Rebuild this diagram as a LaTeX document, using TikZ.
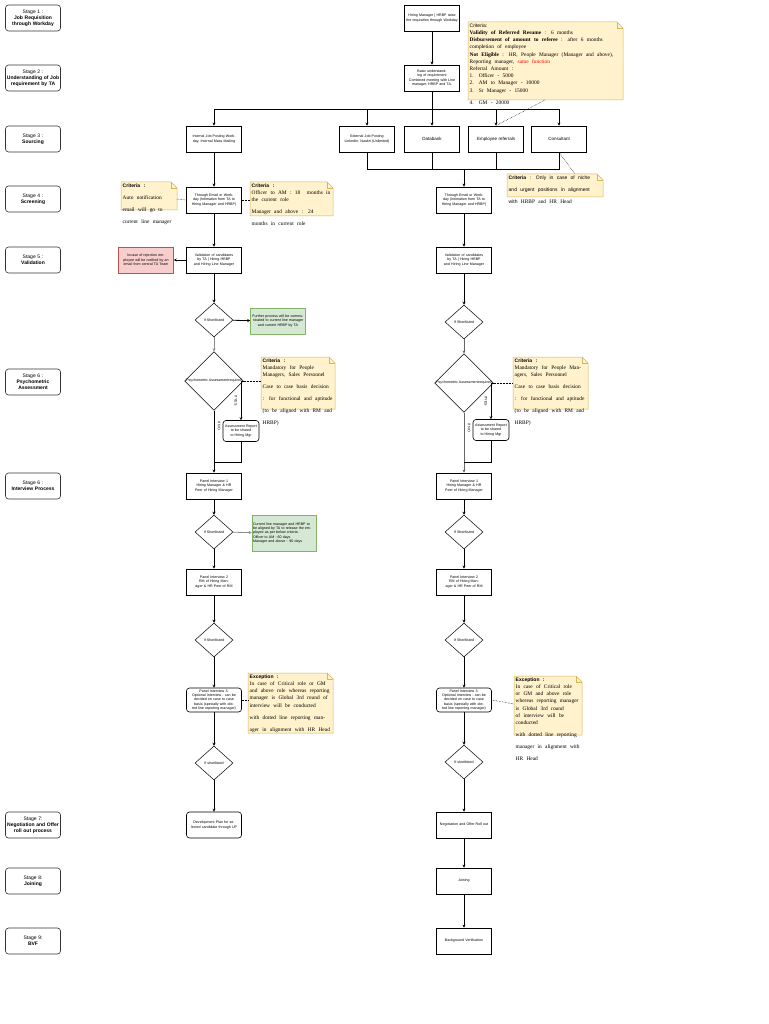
\documentclass[tikz,border=0pt]{standalone}
\usepackage{fontspec}
\setmainfont{Liberation Serif}
\setsansfont{Liberation Sans}
\usetikzlibrary{shapes.geometric,arrows.meta}
\definecolor{ny}{HTML}{FFF2CC}\definecolor{nyb}{HTML}{D6B656}
\definecolor{gf}{HTML}{D5E8D4}\definecolor{gb}{HTML}{82B366}
\definecolor{rf}{HTML}{F8CECC}\definecolor{rb}{HTML}{B85450}
\newcommand{\tinyf}{\sffamily\fontsize{3.6}{4.3}\selectfont}
\newcommand{\stf}{\sffamily\fontsize{5}{6}\selectfont}
\newcommand{\ntf}{\rmfamily\fontsize{5.4}{7.2}\selectfont}
\newcommand{\ntsf}{\sffamily\fontsize{5}{7.2}\selectfont}
\newcommand{\notebox}[6]{%
 \fill[ny] (#1,#2) -- ({#3-6},#2) -- (#3,{#2+6}) -- (#3,#4) -- (#1,#4) -- cycle;
 \draw[nyb,line width=0.5pt] (#1,#2) -- ({#3-6},#2) -- (#3,{#2+6}) -- (#3,#4) -- (#1,#4) -- cycle;
 \draw[nyb,line width=0.5pt] ({#3-6},#2) -- ({#3-6},{#2+6}) -- (#3,{#2+6});
 \node[anchor=north west,inner sep=1pt,text width={#3-#1-3},align=left] (#5) at ({#1+0.5},{#2+0.5}) {#6};
 \path (#1,#2) coordinate (#5-nw) (#3,#4) coordinate (#5-se);}
\begin{document}
\begin{tikzpicture}[x=1pt,y=-1pt,
 stage/.style={draw=black!80,rounded corners=3pt,line width=0.6pt,minimum width=55,minimum height=26,text width=53,align=center,inner sep=0pt,font=\stf},
 box/.style={draw,line width=0.8pt,minimum width=55,minimum height=26,text width=53,align=center,inner sep=0pt,font=\tinyf},
 rbox/.style={box,rounded corners=3pt,line width=0.6pt},
 dia/.style={draw,diamond,line width=0.5pt,minimum width=38,minimum height=34,inner sep=0pt,font=\tinyf},
 pdia/.style={dia,minimum width=58,minimum height=30},
 arr/.style={-{Stealth[length=3pt,width=3pt]},line width=0.8pt},
 garr/.style={arr,draw=black!45},
 dot/.style={densely dotted,line width=0.5pt},
 cbox/.style={draw,line width=0.6pt,minimum width=55,minimum height=26,text width=53,align=center,inner sep=0pt,font=\tinyf}]
\useasboundingbox (0,0) rectangle (768,1024);
\fill[white] (0,0) rectangle (768,1024);
% stages
\node[stage] (s1) at (33,18) {Stage 1 :\\\textbf{Job Requisition through Workday}};
\node[stage] (s2) at (33,78) {Stage 2 :\\\textbf{Understanding of Job requirement by TA}};
\node[stage] (s3) at (33,139) {Stage 3 :\\\textbf{Sourcing}};
\node[stage] (s4) at (33,199) {Stage 4 :\\\textbf{Screening}};
\node[stage] (s5) at (33,260) {Stage 5 :\\\textbf{Validation}};
\node[stage] (s6) at (33,382) {Stage 6 :\\\textbf{Psychometric Assessment}};
\node[stage] (s6b) at (33,486) {Stage 6 :\\\textbf{Interview Process}};
\node[stage] (s7) at (33,825) {Stage 7:\\\textbf{Negotiation and Offer roll out process}};
\node[stage] (s8) at (33,881) {Stage 8:\\\textbf{Joining}};
\node[stage] (s9) at (33,941) {Stage 9:\\\textbf{BVF}};
% top
\node[box] (hm) at (432,18) {Hiring Manager | HRBP raise the requisition through Workday};
\node[box] (bu) at (432,78) {Basic understanding of requirement\\Combined meeting with Line manager, HRBP and TA.};
\node[box] (ijp) at (214,139) {Internal Job Posting Workday, Internal Mass Mailing};
\node[box] (ejp) at (367,139) {External Job Posting LinkedIn, Naukri (Unlimited)};
\node[box,font=\sffamily\fontsize{4.5}{5}\selectfont] (db) at (432,139) {Databank};
\node[box,font=\sffamily\fontsize{4.5}{5}\selectfont] (er) at (496,139) {Employee referrals};
\node[box,font=\sffamily\fontsize{4.5}{5}\selectfont] (co) at (559,139) {Consultant};
\draw[arr] (hm) -- (bu);
\coordinate (bus) at (432,109);
\draw[arr] (bu) -- (db);
\draw[arr] (bus) -| (ijp.north);
\draw[arr] (bus) -| (ejp.north);
\draw[arr] (bus) -| (er.north);
\draw[arr] (bus) -| (co.north);
% left column
\node[box] (scl) at (214,200) {Through Email or Workday (Intimation from TA to Hiring Manager and HRBP)};
\node[box] (vl) at (214,260) {Validation of candidates by TA | Hiring HRBP and Hiring Line Manager};
\node[draw=rb,fill=rf,line width=0.6pt,minimum width=55,minimum height=26,text width=53,align=center,inner sep=0pt,font=\tinyf] (rej) at (146,260) {Incase of rejection employee will be notified by an email from central TA Team};
\node[dia] (d1l) at (214,320) {If Shortlisted};
\node[draw=gb,fill=gf,line width=0.6pt,minimum width=55,minimum height=26,text width=53,align=center,inner sep=0pt,font=\tinyf] (g1) at (278,321) {Further process will be communicated to current line manager and current HRBP by TA};
\node[pdia] (pl) at (214,381) {Psychometric Assessment\\required};
\node[rbox,minimum width=36,text width=33,minimum height=21] (al) at (241,431) {Assessment Report to be shared to Hiring Mgr};
\node[box] (p1l) at (214,486) {Panel Interview 1\\Hiring Manager \& HR Peer of Hiring Manager};
\node[dia] (d2l) at (214,532) {If Shortlisted};
\node[draw=gb,fill=gf,line width=0.6pt,minimum width=64,minimum height=36,text width=62,align=left,inner sep=1pt,font=\tinyf] (g2) at (284,533) {Current line manager and HRBP to be aligned by TA to release the employee as per below criteria:\\Officer to AM : 60 days\\Manager and above : 90 days};
\node[box] (p2l) at (214,582) {Panel Interview 2\\RM of Hiring Manager \& HR Peer of RM};
\node[dia] (d3l) at (214,640) {If Shortlisted};
\node[rbox,minimum height=24] (p3l) at (214,700) {Panel Interview 3:\\Optional Interview - can be decided on case to case basis (specially with dotted line reporting manager)};
\node[dia] (d4l) at (214,763) {If shortlisted};
\node[rbox] (dp) at (214,825) {Development Plan for selected candidate through UP};
\draw[arr] (ijp) -- (scl);
\draw[arr] (scl) -- (vl);
\draw[arr] (vl) -- (rej);
\draw[arr] (vl) -- (d1l);
\draw[arr] (d1l) -- (g1);
\draw[garr] (d1l) -- (pl);
\draw[arr] (pl.south) -- node[pos=0.25,left=0pt,font=\tinyf,rotate=-90,anchor=south]{If NO} (p1l.north);
\draw[arr] (pl.east) -| node[pos=0.75,right=0pt,font=\tinyf,rotate=-90,anchor=north]{If YES} (al.north);
\coordinate (jl) at (214,462);
\draw[line width=0.8pt] (al.south) |- (jl);
\draw[arr] (p1l) -- (d2l);
\draw[garr] (d2l) -- (g2);
\draw[arr] (d2l) -- (p2l);
\draw[arr] (p2l) -- (d3l);
\draw[arr] (d3l) -- (p3l);
\draw[arr] (p3l) -- (d4l);
\draw[arr] (d4l) -- (dp);
% right column
\node[box] (scr) at (464,200) {Through Email or Workday (Intimation from TA to Hiring Manager and HRBP)};
\node[box] (vr) at (464,260) {Validation of candidates by TA | Hiring HRBP and Hiring Line Manager};
\node[dia] (d1r) at (464,322) {If Shortlisted};
\node[pdia] (pr) at (464,383) {Psychometric Assessment\\required};
\node[rbox,minimum width=36,text width=33,minimum height=21] (ar) at (491,430) {Assessment Report to be shared to Hiring Mgr};
\node[box] (p1r) at (464,486) {Panel Interview 1\\Hiring Manager \& HR Peer of Hiring Manager};
\node[dia] (d2r) at (464,532) {If Shortlisted};
\node[box] (p2r) at (464,582) {Panel Interview 2\\RM of Hiring Manager \& HR Peer of RM};
\node[dia] (d3r) at (464,640) {If Shortlisted};
\node[rbox,minimum height=24] (p3r) at (464,700) {Panel Interview 3:\\Optional Interview - can be decided on case to case basis (specially with dotted line reporting manager)};
\node[dia] (d4r) at (464,762) {If shortlisted};
\node[box] (neg) at (464,825) {Negotiation and Offer Roll out};
\node[box] (jo) at (464,881) {Joining};
\node[box] (bv) at (464,941) {Background Verification};
\coordinate (bus2) at (464,169);
\draw[line width=0.8pt] (ejp.south) |- (bus2);
\draw[line width=0.8pt] (co.south) |- (bus2);
\draw[line width=0.8pt] (db.south) -- (db.south |- bus2);
\draw[line width=0.8pt] (er.south) -- (er.south |- bus2);
\draw[arr] (bus2) -- (scr);
\draw[arr] (scr) -- (vr);
\draw[arr] (vr) -- (d1r);
\draw[arr,draw=black!60] (d1r) -- (pr);
\draw[arr,draw=black!60] (pr.south) -- node[pos=0.25,left=0pt,font=\tinyf,rotate=-90,anchor=south]{If NO} (p1r.north);
\draw[arr] (pr.east) -| node[pos=0.75,right=0pt,font=\tinyf,rotate=-90,anchor=north]{If YES} (ar.north);
\coordinate (jr) at (464,462);
\draw[line width=0.8pt] (ar.south) |- (jr);
\draw[arr] (p1r) -- (d2r);
\draw[arr] (d2r) -- (p2r);
\draw[arr] (p2r) -- (d3r);
\draw[arr] (d3r) -- (p3r);
\draw[arr] (p3r) -- (d4r);
\draw[arr] (d4r) -- (neg);
\draw[arr] (neg) -- (jo);
\draw[arr] (jo) -- (bv);
% notes
\notebox{468}{22}{623}{100}{nref}{\ntf {\sffamily\fontsize{5}{7.2}\selectfont Criteria:}\\\textbf{Validity of Referred Resume} : 6 months\\\textbf{Disbursement of amount to referee} : after 6 months completion of employee\\\textbf{Not Eligible} : HR, People Manager (Manager and above), Reporting manager, \textcolor{red}{same function}\\Referral Amount :\\1. Officer - 5000\\2. AM to Manager - 10000\\3. Sr Manager - 15000\\4. GM - 20000}
\draw[dot] (545,100) -- (er.north);
\notebox{507}{174}{603}{197}{ncon}{\ntf {\ntsf\textbf{Criteria} : Only in case of niche and urgent positions in alignment with} HRBP and HR Head}
\draw[dot] (co.south) -- (575,174);
\notebox{121}{182}{177}{210}{nauto}{\ntf {\ntsf\textbf{Criteria :}}\\Auto notification email will go to current line manager}
\draw[dot] (177,199) -- (scl.west);
\notebox{250}{182}{333}{216}{nscr}{\ntf {\ntsf\textbf{Criteria :}}\\Officer to AM : 18 ~months in the current role\\Manager and above : 24 months in current role}
\draw[dot] (scl.east) -- (250,200);
\notebox{261}{357}{335}{409}{npl}{\ntf {\ntsf\textbf{Criteria :}}\\Mandatory for People Managers, Sales Personnel\\Case to case basis decision : for functional and aptitude (to be aligned with RM and HRBP)}
\draw[dot] (pl.east) -- (261,381);
\notebox{513}{357}{588}{409}{npr}{\ntf {\ntsf\textbf{Criteria :}}\\Mandatory for People Managers, Sales Personnel\\Case to case basis decision : for functional and aptitude (to be aligned with RM and HRBP)}
\draw[dot] (pr.east) -- (513,383);
\notebox{248}{673}{333}{733}{nexl}{\ntf {\ntsf\textbf{Exception :}}\\In case of Critical role or GM and above role whereas reporting manager is Global 3rd round of interview will be conducted\\with dotted line reporting manager in alignment with HR Head}
\draw[dot] (p3l.east) -- (248,700);
\notebox{514}{676}{582}{735}{nexr}{\ntf {\ntsf\textbf{Exception :}}\\In case of Critical role or GM and above role whereas reporting manager is Global 3rd round of interview will be conducted\\with dotted line reporting manager in alignment with HR Head}
\draw[dot] (p3r.east) -- (514,704);
\end{tikzpicture}
\end{document}
